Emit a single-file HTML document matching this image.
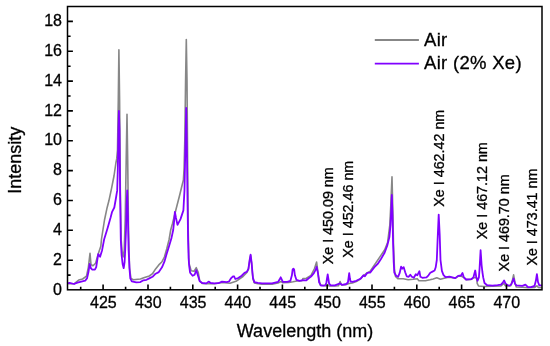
<!DOCTYPE html>
<html><head><meta charset="utf-8"><title>Spectrum</title><style>
html,body{margin:0;padding:0;background:#fff;}
svg{display:block;}
text{stroke:#000;stroke-width:0.3px;}
</style></head><body>
<svg width="550" height="346" viewBox="0 0 550 346" style="font-family:'Liberation Sans',Arial,sans-serif">
<rect width="550" height="346" fill="#fff"/>
<polyline points="67.0,283.8 74.0,283.8 78.7,280.1 82.6,279.0 86.5,276.2 88.4,267.1 90.0,253.4 91.0,264.5 93.0,265.8 95.6,263.2 98.2,254.1 100.8,246.3 101.5,239.0 104.5,220.0 107.1,207.7 108.9,200.8 111.5,188.7 113.2,180.0 114.0,176.0 115.9,163.0 116.7,158.9 117.5,150.0 118.3,100.0 118.9,49.7 119.6,100.0 120.3,190.0 121.2,240.0 122.2,253.0 123.1,257.0 124.2,250.0 125.2,220.0 126.2,160.0 127.0,114.3 127.7,160.0 128.5,230.0 129.5,268.0 131.0,278.5 133.3,279.8 140.4,279.0 144.5,277.6 149.3,276.0 152.5,273.7 155.6,268.9 158.8,264.9 162.0,261.7 164.4,257.0 166.7,249.0 169.1,239.5 170.7,230.0 172.5,223.5 176.1,209.0 179.7,195.0 181.9,186.0 183.4,180.0 184.1,168.0 184.8,140.0 185.6,80.0 186.3,39.5 187.0,80.0 187.6,160.0 188.2,230.0 189.0,263.1 191.1,270.7 194.1,271.2 196.3,267.7 198.2,272.2 199.7,280.8 202.2,283.5 206.3,283.8 214.4,283.8 222.0,282.5 230.0,283.3 236.0,281.3 243.0,276.5 246.9,272.5 248.4,269.5 249.7,260.5 250.6,255.6 251.6,263.5 252.4,273.0 253.0,279.0 254.4,283.0 258.0,283.8 262.0,284.3 272.0,284.2 278.0,283.0 281.0,281.5 283.0,282.8 289.0,282.5 293.0,281.8 297.0,281.0 302.0,280.8 302.9,278.5 306.4,278.3 311.0,275.4 314.5,268.5 316.6,262.1 318.5,276.6 320.3,285.0 326.0,286.0 327.8,284.5 329.0,286.0 334.8,286.0 338.5,285.8 340.1,281.5 341.5,285.0 346.2,284.6 349.2,283.5 352.3,283.0 356.3,281.5 360.4,279.0 363.4,275.8 367.0,273.0 370.0,271.5 374.6,264.8 380.4,256.1 384.7,249.8 387.6,242.5 389.8,225.0 390.8,205.0 392.0,176.9 392.8,210.0 393.5,245.0 394.5,270.0 395.5,276.3 398.1,278.8 403.2,278.8 408.2,279.8 413.3,279.3 417.3,278.8 418.9,280.8 421.4,280.8 425.4,280.8 430.0,279.8 433.2,278.9 436.8,277.8 440.5,279.3 444.1,278.2 447.7,277.5 451.4,277.5 455.2,278.3 458.1,276.3 461.0,276.0 463.9,277.6 466.1,279.6 471.2,279.4 473.4,277.8 475.2,277.5 476.6,278.0 477.2,283.4 478.5,286.0 483.7,286.5 501.0,286.0 503.9,283.5 505.6,286.0 510.7,285.8 512.5,280.0 513.6,274.9 515.0,283.0 516.3,287.0 522.4,287.3 528.0,287.8 534.5,287.5 536.9,285.8 538.4,287.5 542.0,287.6" fill="none" stroke="#878787" stroke-width="1.6" stroke-linejoin="round"/>
<polyline points="67.0,283.3 69.6,282.9 74.1,284.0 77.4,282.7 81.3,281.6 85.2,280.7 87.1,278.1 88.4,272.3 89.7,263.8 91.0,268.4 92.3,269.7 94.9,269.7 96.2,267.1 98.2,254.1 100.1,256.7 102.1,250.2 104.1,239.5 107.7,227.8 110.6,217.6 112.1,211.8 114.3,207.5 115.8,199.0 117.2,190.4 117.8,170.0 118.4,130.0 118.9,110.9 119.5,130.0 120.2,200.0 120.8,240.0 121.6,255.0 122.6,264.0 123.7,268.2 124.6,262.0 125.2,250.0 126.0,230.0 126.6,205.0 127.2,190.5 127.9,215.0 128.6,250.0 129.6,270.0 130.3,278.3 131.8,281.3 136.3,282.3 140.4,282.1 143.4,280.3 146.5,279.8 149.3,278.4 152.5,276.8 155.6,273.7 158.8,272.1 162.0,267.3 164.4,261.7 166.7,253.8 169.1,245.9 171.5,237.9 173.2,230.0 173.9,223.5 174.9,211.8 176.0,218.0 177.5,224.9 180.5,219.1 183.4,210.4 184.5,190.0 185.3,150.0 186.2,107.9 186.9,150.0 187.5,200.0 188.1,240.0 188.6,258.0 189.2,266.2 190.1,272.7 192.6,275.8 194.6,274.7 196.3,270.2 197.7,274.7 199.7,281.3 202.2,283.0 206.3,283.4 208.6,281.6 210.8,283.0 214.4,283.3 218.4,283.2 222.0,281.6 226.6,282.1 229.0,281.5 231.2,278.1 233.0,276.3 234.2,276.5 235.3,279.0 238.2,278.1 241.7,275.7 244.5,272.9 246.9,271.7 248.4,268.8 249.7,259.6 250.6,254.6 251.6,262.5 252.4,272.0 253.0,278.1 254.4,282.1 257.8,282.9 262.0,283.4 272.1,283.4 278.2,281.8 279.7,279.3 280.7,277.3 281.7,279.3 282.8,281.8 287.3,281.8 290.4,280.8 291.9,275.3 292.6,269.5 293.4,268.6 294.2,269.8 294.9,275.3 296.4,279.8 299.5,280.8 302.0,280.3 302.9,280.1 306.4,280.3 308.7,278.3 311.0,276.6 313.9,273.1 315.7,269.7 316.6,266.8 318.0,273.1 319.1,282.4 320.9,285.5 323.7,285.6 325.5,285.0 326.4,282.5 327.0,278.5 327.7,274.3 328.4,279.0 329.1,283.5 330.7,285.3 334.8,285.3 340.1,283.4 342.2,284.9 346.2,284.0 347.9,282.5 348.5,278.5 349.2,273.2 350.0,279.0 350.5,281.5 352.3,281.8 356.3,280.8 360.4,278.8 363.4,275.3 364.9,276.3 367.0,273.2 368.5,272.7 370.3,272.5 374.2,267.4 377.7,263.9 381.1,258.7 384.6,252.7 387.2,245.8 389.4,237.1 390.5,225.0 391.2,210.0 391.8,194.8 392.5,215.0 393.0,240.0 393.7,262.0 394.3,272.5 396.1,275.8 398.1,276.8 399.6,273.2 401.1,266.6 402.2,268.7 403.7,267.2 405.2,272.2 406.7,276.3 408.7,276.8 410.3,274.7 411.8,276.8 413.8,277.8 415.8,274.2 417.3,275.3 419.4,271.2 420.4,276.8 422.4,277.8 426.5,277.3 428.5,275.3 430.3,272.7 432.5,271.6 434.6,270.5 435.7,267.3 436.8,260.0 437.6,240.0 438.7,214.6 439.7,235.0 440.5,260.0 441.9,270.9 443.4,274.9 445.5,277.1 449.4,276.6 455.2,278.1 458.1,275.9 461.0,275.5 462.5,273.0 463.9,277.4 466.1,279.5 471.2,279.2 473.4,277.4 475.2,270.5 476.3,277.4 477.6,280.8 478.9,277.4 479.6,268.0 480.6,250.2 481.6,265.0 482.4,272.0 483.2,277.4 484.5,283.0 487.1,285.2 492.4,285.6 497.6,285.2 501.0,284.7 502.8,282.6 504.1,280.4 505.4,283.4 507.5,285.2 509.7,285.6 511.4,284.3 513.6,278.5 515.0,283.7 516.3,285.4 522.4,285.9 525.4,284.7 528.0,287.2 531.0,287.2 534.5,285.9 535.8,281.1 536.9,274.1 538.0,282.0 539.3,285.4 542.0,285.4" fill="none" stroke="#8000ff" stroke-width="1.8" stroke-linejoin="round"/>
<rect x="67.5" y="6.5" width="474.5" height="283.3" fill="none" stroke="#000" stroke-width="1.5"/>
<path d="M67.3,275.1h3.3 M67.3,260.2h5.6 M67.3,245.2h3.3 M67.3,230.3h5.6 M67.3,215.4h3.3 M67.3,200.5h5.6 M67.3,185.6h3.3 M67.3,170.6h5.6 M67.3,155.7h3.3 M67.3,140.8h5.6 M67.3,125.9h3.3 M67.3,110.9h5.6 M67.3,96.0h3.3 M67.3,81.1h5.6 M67.3,66.2h3.3 M67.3,51.3h5.6 M67.3,36.3h3.3 M67.3,21.4h5.6 M80.7,290.0v-3.3 M103.1,290.0v-5.6 M125.6,290.0v-3.3 M148.0,290.0v-5.6 M170.4,290.0v-3.3 M192.8,290.0v-5.6 M215.2,290.0v-3.3 M237.6,290.0v-5.6 M260.0,290.0v-3.3 M282.4,290.0v-5.6 M304.8,290.0v-3.3 M327.2,290.0v-5.6 M349.6,290.0v-3.3 M372.0,290.0v-5.6 M394.4,290.0v-3.3 M416.8,290.0v-5.6 M439.2,290.0v-3.3 M461.6,290.0v-5.6 M484.0,290.0v-3.3 M506.5,290.0v-5.6" stroke="#000" stroke-width="1.6" fill="none"/>
<g font-size="16" text-anchor="end" fill="#000"><text x="62" y="294.6">0</text><text x="62" y="264.8">2</text><text x="62" y="234.9">4</text><text x="62" y="205.1">6</text><text x="62" y="175.2">8</text><text x="62" y="145.4">10</text><text x="62" y="115.5">12</text><text x="62" y="85.7">14</text><text x="62" y="55.9">16</text><text x="62" y="26.0">18</text></g>
<g font-size="16" text-anchor="middle" fill="#000"><text x="103.4" y="307.8">425</text><text x="148.3" y="307.8">430</text><text x="193.1" y="307.8">435</text><text x="237.9" y="307.8">440</text><text x="282.7" y="307.8">445</text><text x="327.5" y="307.8">450</text><text x="372.3" y="307.8">455</text><text x="417.1" y="307.8">460</text><text x="461.9" y="307.8">465</text><text x="506.8" y="307.8">470</text></g>
<text x="236.8" y="336.5" font-size="18">Wavelength (nm)</text>
<text transform="translate(21.2,193.7) rotate(-90)" font-size="18">Intensity</text>
<line x1="374.8" y1="40" x2="418.9" y2="40" stroke="#878787" stroke-width="1.8"/>
<line x1="374.8" y1="63.6" x2="418.9" y2="63.6" stroke="#8000ff" stroke-width="1.8"/>
<text x="424" y="45.8" font-size="18.5" letter-spacing="0.3">Air</text>
<text x="424" y="68.8" font-size="18.5" letter-spacing="0.3">Air (2% Xe)</text>
<g font-size="14.3" fill="#000"><text transform="translate(332.8,264.3) rotate(-90)">Xe I 450.09 nm</text><text transform="translate(352.9,257.7) rotate(-90)">Xe I 452.46 nm</text><text transform="translate(444.0,206.7) rotate(-90)">Xe I 462.42 nm</text><text transform="translate(486.6,239.2) rotate(-90)">Xe I 467.12 nm</text><text transform="translate(508.6,271.4) rotate(-90)">Xe I 469.70 nm</text><text transform="translate(537.0,265.6) rotate(-90)">Xe I 473.41 nm</text></g>
</svg>
</body></html>
